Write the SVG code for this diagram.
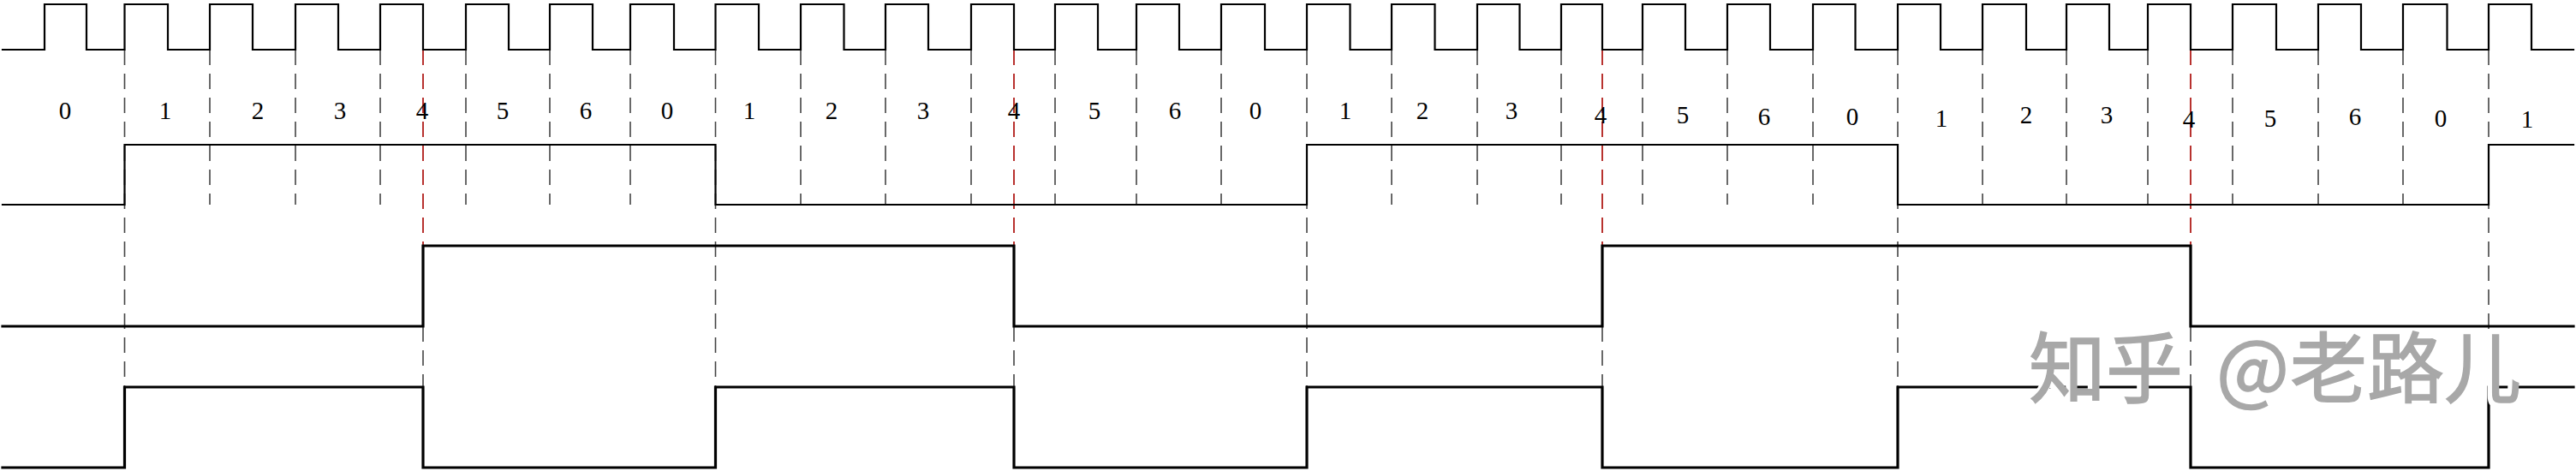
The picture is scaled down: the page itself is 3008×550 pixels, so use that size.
<svg xmlns="http://www.w3.org/2000/svg" width="3008" height="550" viewBox="0 0 3008 550">
<style>
.sig{fill:none;stroke:#000;stroke-linejoin:miter;stroke-linecap:square}
.thin{stroke-width:2.2}
.thick{stroke-width:3.2}
.g{stroke:#444;stroke-width:1.6;stroke-dasharray:18 10;fill:none}
.r{stroke:#b8322f;stroke-width:2;stroke-dasharray:18 10;fill:none}
.lbl{font-family:"Liberation Serif","Times New Roman",serif;font-size:29px;fill:#000;text-anchor:middle}
.wm{font-family:"Noto Sans CJK SC","Noto Sans",sans-serif;font-size:90px}
</style>
<rect width="3008" height="550" fill="#fff"/>
<g id="connectors">
<line class="g" x1="145.5" y1="58" x2="145.5" y2="452"/>
<line class="g" x1="245" y1="58" x2="245" y2="239"/>
<line class="g" x1="345" y1="58" x2="345" y2="239"/>
<line class="g" x1="444" y1="58" x2="444" y2="239"/>
<line class="g" x1="544" y1="58" x2="544" y2="239"/>
<line class="g" x1="642" y1="58" x2="642" y2="239"/>
<line class="g" x1="736" y1="58" x2="736" y2="239"/>
<line class="g" x1="835.5" y1="58" x2="835.5" y2="452"/>
<line class="g" x1="935" y1="58" x2="935" y2="239"/>
<line class="g" x1="1034" y1="58" x2="1034" y2="239"/>
<line class="g" x1="1134" y1="58" x2="1134" y2="239"/>
<line class="g" x1="1232" y1="58" x2="1232" y2="239"/>
<line class="g" x1="1327" y1="58" x2="1327" y2="239"/>
<line class="g" x1="1426" y1="58" x2="1426" y2="239"/>
<line class="g" x1="1526" y1="58" x2="1526" y2="452"/>
<line class="g" x1="1625" y1="58" x2="1625" y2="239"/>
<line class="g" x1="1725" y1="58" x2="1725" y2="239"/>
<line class="g" x1="1823" y1="58" x2="1823" y2="239"/>
<line class="g" x1="1918" y1="58" x2="1918" y2="239"/>
<line class="g" x1="2017" y1="58" x2="2017" y2="239"/>
<line class="g" x1="2117" y1="58" x2="2117" y2="239"/>
<line class="g" x1="2216" y1="58" x2="2216" y2="452"/>
<line class="g" x1="2315" y1="58" x2="2315" y2="239"/>
<line class="g" x1="2413" y1="58" x2="2413" y2="239"/>
<line class="g" x1="2508" y1="58" x2="2508" y2="239"/>
<line class="g" x1="2607" y1="58" x2="2607" y2="239"/>
<line class="g" x1="2707" y1="58" x2="2707" y2="239"/>
<line class="g" x1="2806" y1="58" x2="2806" y2="239"/>
<line class="g" x1="2906" y1="58" x2="2906" y2="452"/>
<line class="r" x1="494" y1="58" x2="494" y2="287"/>
<line class="g" x1="494" y1="381" x2="494" y2="452"/>
<line class="r" x1="1184" y1="58" x2="1184" y2="287"/>
<line class="g" x1="1184" y1="381" x2="1184" y2="452"/>
<line class="r" x1="1871" y1="58" x2="1871" y2="287"/>
<line class="g" x1="1871" y1="381" x2="1871" y2="452"/>
<line class="r" x1="2558" y1="58" x2="2558" y2="287"/>
<line class="g" x1="2558" y1="381" x2="2558" y2="452"/>
</g>
<g id="clock">
<path class="sig thin" d="M3,58 H52 V5 H101 V58 H145.5 V5 H196 V58 H245 V5 H295 V58 H345 V5 H395 V58 H444 V5 H494 V58 H544 V5 H594 V58 H642 V5 H692 V58 H736 V5 H787 V58 H835.5 V5 H886 V58 H935 V5 H985.5 V58 H1034 V5 H1084 V58 H1134 V5 H1184 V58 H1232 V5 H1282 V58 H1327 V5 H1377 V58 H1426 V5 H1477 V58 H1526 V5 H1576.5 V58 H1625 V5 H1675.5 V58 H1725 V5 H1774.5 V58 H1823 V5 H1871 V58 H1918 V5 H1968 V58 H2017 V5 H2067 V58 H2117 V5 H2166.5 V58 H2216 V5 H2266 V58 H2315 V5 H2366 V58 H2413 V5 H2463 V58 H2508 V5 H2558 V58 H2607 V5 H2658 V58 H2707 V5 H2757 V58 H2806 V5 H2857.5 V58 H2906 V5 H2956 V58 H3005"/>
</g>
<g id="labels">
<text class="lbl" x="76" y="139">0</text>
<text class="lbl" x="193" y="139">1</text>
<text class="lbl" x="301" y="139">2</text>
<text class="lbl" x="397" y="139">3</text>
<text class="lbl" x="493" y="139">4</text>
<text class="lbl" x="587" y="139">5</text>
<text class="lbl" x="684" y="139">6</text>
<text class="lbl" x="779" y="139">0</text>
<text class="lbl" x="875" y="139">1</text>
<text class="lbl" x="971" y="139">2</text>
<text class="lbl" x="1078" y="139">3</text>
<text class="lbl" x="1184" y="139">4</text>
<text class="lbl" x="1278" y="139">5</text>
<text class="lbl" x="1372" y="139">6</text>
<text class="lbl" x="1466" y="139">0</text>
<text class="lbl" x="1571" y="139">1</text>
<text class="lbl" x="1661" y="139">2</text>
<text class="lbl" x="1765" y="139">3</text>
<text class="lbl" x="1869" y="144">4</text>
<text class="lbl" x="1965" y="144">5</text>
<text class="lbl" x="2060" y="146">6</text>
<text class="lbl" x="2163" y="146">0</text>
<text class="lbl" x="2267" y="148">1</text>
<text class="lbl" x="2366" y="144">2</text>
<text class="lbl" x="2460" y="144">3</text>
<text class="lbl" x="2556" y="149">4</text>
<text class="lbl" x="2651" y="148">5</text>
<text class="lbl" x="2750" y="146">6</text>
<text class="lbl" x="2850" y="148">0</text>
<text class="lbl" x="2951" y="149">1</text>
</g>
<g id="signal-a">
<path class="sig thin" d="M3,239 H145.5 V169 H835.5 V239 H1526 V169 H2216 V239 H2906 V169 H3005"/>
</g>
<g id="signal-b">
<path class="sig thick" d="M3,381 H494 V287 H1184 V381 H1871 V287 H2558 V381 H3005"/>
</g>
<g id="signal-c">
<path class="sig thick" d="M3,546 H145.5 V452 H494 V546 H835.5 V452 H1184 V546 H1526 V452 H1871 V546 H2216 V452 H2558 V546 H2906 V452 H3005"/>
</g>
<g id="watermark">
<text class="wm" x="2366" y="466" fill="#fff" stroke="#fff" stroke-width="6" stroke-linejoin="round"><tspan x="2366">知乎</tspan><tspan x="2585">@</tspan><tspan x="2671">老路儿</tspan></text>
<text class="wm" x="2369" y="463" fill="#a8a8a8" stroke="#a8a8a8" stroke-width="1.5"><tspan x="2369">知乎</tspan><tspan x="2588">@</tspan><tspan x="2674">老路儿</tspan></text>
</g>
</svg>
